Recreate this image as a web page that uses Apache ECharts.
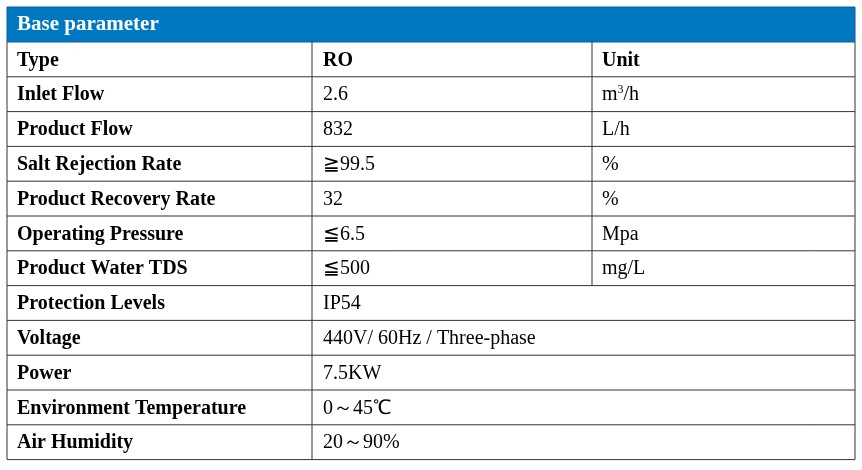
<!DOCTYPE html>
<html><head><meta charset="utf-8">
<script src="https://cdn.jsdelivr.net/npm/echarts@6/dist/echarts.min.js"></script>
<style>html,body{margin:0;padding:0;background:#fff}#c{width:862px;height:470px}</style>
</head><body><div id="c"></div>
<script>
var title = "Base parameter";
var params = ["Type","Inlet Flow","Product Flow","Salt Rejection Rate","Product Recovery Rate","Operating Pressure","Product Water TDS","Protection Levels","Voltage","Power","Environment Temperature","Air Humidity"];
var values = ["RO","2.6","832","≧99.5","32","≦6.5","≦500","IP54","440V/ 60Hz / Three-phase","7.5KW","0～45℃","20～90%"];
var units = ["Unit","m{sup|3}/h","L/h","%","%","Mpa","mg/L",null,null,null,null,null];

var L=7, R=855, T=7, HH=35, RH=34.8, C1=312, C2=592;
var font='"Liberation Serif", "Times New Roman", serif';
var g=[];
g.push({type:'rect',shape:{x:L,y:T,width:R-L,height:HH},style:{fill:'#0078c1',stroke:'#0b5f9a',lineWidth:1}});
g.push({type:'text',x:L+10,y:T+HH/2,style:{text:title,fill:'#fff',font:'bold 21px '+font,verticalAlign:'middle'}});
var y0=T+HH;
params.forEach(function(p,i){
  var y=y0+i*RH;
  var bold = (i===0);
  g.push({type:'text',x:L+10,y:y+RH/2+1,style:{text:p,fill:'#000',font:'bold 20px '+font,verticalAlign:'middle'}});
  g.push({type:'text',x:C1+11,y:y+RH/2+1,style:{text:values[i],fill:'#000',font:(bold?'bold ':'')+'20px '+font,verticalAlign:'middle'}});
  if(units[i]!==null){
    g.push({type:'text',x:C2+10,y:y+RH/2+1,style:{text:units[i],fill:'#000',font:(bold?'bold ':'')+'20px '+font,verticalAlign:'middle',rich:{sup:{fontSize:12,verticalAlign:'top',padding:[0,0,10,0],fontFamily:font}}}});
    g.push({type:'line',shape:{x1:C2,y1:y,x2:C2,y2:y+RH},style:{stroke:'#333',lineWidth:1}});
  }
  g.push({type:'line',shape:{x1:C1,y1:y,x2:C1,y2:y+RH},style:{stroke:'#333',lineWidth:1}});
  g.push({type:'line',shape:{x1:L,y1:y+RH,x2:R,y2:y+RH},style:{stroke:'#333',lineWidth:1}});
});
var bottom=y0+params.length*RH;
g.push({type:'line',shape:{x1:L,y1:y0,x2:L,y2:bottom},style:{stroke:'#333',lineWidth:1}});
g.push({type:'line',shape:{x1:R,y1:y0,x2:R,y2:bottom},style:{stroke:'#333',lineWidth:1}});
var chart=echarts.init(document.getElementById('c'));
chart.setOption({animation:false,graphic:g});
</script></body></html>
